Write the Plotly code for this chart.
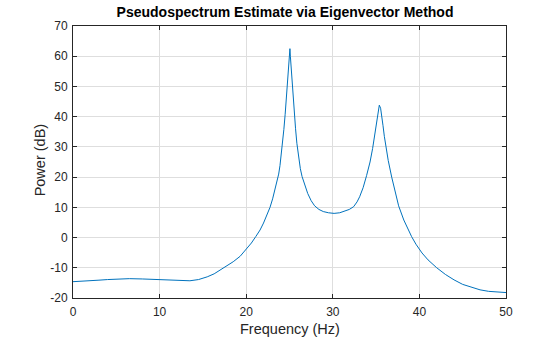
import plotly.graph_objects as go

freq_hz = [0, 1, 2, 3, 4, 5, 6.5, 8, 9.5, 11, 12.5, 13.5, 14.5, 15.5, 16.3, 17, 17.8,
           18.5, 19.3, 20, 20.6, 21.1, 21.6, 22.0, 22.4, 22.75, 23.05, 23.3, 23.55,
           23.75, 23.9, 24.05, 24.2, 24.35, 24.5, 24.65, 24.8, 24.92, 25.0, 25.05,
           25.1, 25.18, 25.3, 25.45, 25.55, 25.7, 25.85, 26.05, 26.25, 26.45, 26.75,
           27.1, 27.5, 27.9, 28.4, 28.9, 29.5, 30.15, 30.8, 31.3, 31.9, 32.4, 32.8,
           33.1, 33.5, 33.9, 34.3, 34.6, 34.85, 35.07, 35.22, 35.3, 35.37, 35.52,
           35.65, 35.8, 35.95, 36.1, 36.4, 36.8, 37.2, 37.6, 38.2, 38.6, 39.1, 39.6,
           40, 40.3, 41, 42, 43, 44, 45, 46, 47, 48, 49, 50]
power_db = [-14.6, -14.5, -14.3, -14.1, -13.9, -13.7, -13.6, -13.7, -13.9, -14.2, -14.4,
            -14.3, -13.9, -13.0, -12.0, -10.8, -9.3,
            -8.0, -6.2, -4.0, -1.8, 0.3, 2.5, 4.8, 7.5, 10.0, 12.8, 15.5, 18.0,
            21.0, 23.8, 27.2, 31.3, 35.8, 40.8, 46.0, 51.5, 56.5, 60.0, 62.5,
            60.0, 56.5, 51.5, 45.5, 41.5, 36.0, 31.2, 26.0, 22.8, 20.2, 17.2,
            14.6, 12.2, 10.5, 9.3, 8.6, 8.2, 8.0, 8.2, 8.6, 9.3, 10.2, 11.8,
            13.5, 16.5, 20.5, 25.0, 29.5, 34.0, 38.8, 42.0, 43.3, 43.8, 42.8,
            40.5, 37.0, 33.5, 30.5, 25.5, 20.0, 15.0, 10.5, 5.8, 3.2, 0.3, -2.2,
            -4.0, -5.1, -7.4, -10.0, -12.2, -14.0, -15.5, -16.5, -17.3, -17.8, -18.1, -18.2]

x_ticks = [0, 10, 20, 30, 40, 50]
y_ticks = [-20, -10, 0, 10, 20, 30, 40, 50, 60, 70]

FONT = "Liberation Sans, Arial, Helvetica"

fig = go.Figure()
fig.add_trace(go.Scatter(x=freq_hz, y=power_db, mode="lines",
                         line=dict(color="#0072BD", width=1), hoverinfo="skip"))

axis_common = dict(
    showline=True, linecolor="#262626", linewidth=1, mirror="ticks",
    ticks="inside", ticklen=4, tickcolor="#262626",
    showgrid=True, gridcolor="#dedede", gridwidth=1, automargin=False,
    zeroline=False, tickfont=dict(family=FONT, size=12, color="#262626"),
)

fig.update_layout(
    width=560, height=337,
    margin=dict(l=73, r=54, t=26, b=39),
    paper_bgcolor="white", plot_bgcolor="white",
    showlegend=False,
    title=dict(text="<b>Pseudospectrum Estimate via Eigenvector Method</b>",
               x=0.509, xanchor="center", y=0.963, yanchor="middle",
               font=dict(family=FONT, size=14, color="black")),
    xaxis=dict(range=[0, 50], tickvals=x_ticks, ticktext=[str(v) for v in x_ticks],
               ticklabelstandoff=3, **axis_common),
    yaxis=dict(range=[-20, 70], tickvals=y_ticks, ticktext=[str(v) for v in y_ticks],
               ticklabelstandoff=2, **axis_common),
    annotations=[
        dict(text="Frequency (Hz)", xref="paper", yref="paper", x=0.502, y=0,
             xanchor="center", yanchor="middle", yshift=-31, showarrow=False,
             font=dict(family=FONT, size=14.5, color="#262626")),
        dict(text="Power (dB)", xref="paper", yref="paper", x=0, y=0.506,
             xanchor="center", yanchor="middle", xshift=-33, textangle=-90,
             showarrow=False, font=dict(family=FONT, size=14.5, color="#262626")),
    ],
)

fig.write_html("out.html")
